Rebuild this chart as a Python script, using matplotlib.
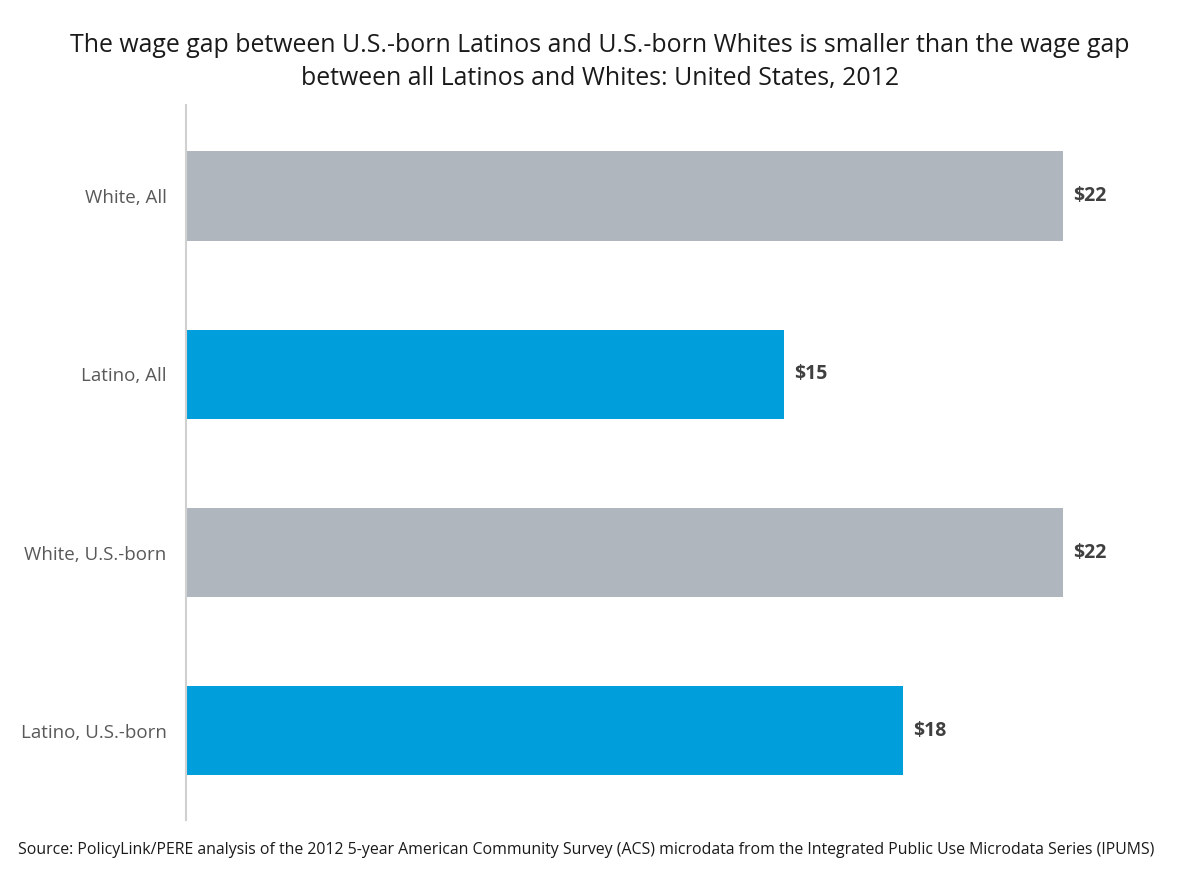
import matplotlib.pyplot as plt

# data
categories = ["White, All", "Latino, All", "White, U.S.-born", "Latino, U.S.-born"]
wages = [22, 15, 22, 18]
bar_colors = ["#AFB6BE", "#009FDB", "#AFB6BE", "#009FDB"]

plt.rcParams["font.family"] = ["Open Sans", "DejaVu Sans"]

fig = plt.figure(figsize=(12, 8.71), dpi=100)
ax = fig.add_axes([186 / 1200, 1 - 820 / 871, 25 * 39.86 / 1200, 715 / 871])

ypos = list(range(len(categories)))
ax.barh(ypos, wages, height=0.5, color=bar_colors)
ax.set_xlim(0, 25)
ax.set_ylim(3.5, -0.51)

ax.set_yticks(ypos)
ax.set_yticklabels(categories, fontsize=13.5, color="#595959")
ax.tick_params(axis="y", length=0, pad=14)
ax.set_xticks([])

for s in ["top", "right", "bottom"]:
    ax.spines[s].set_visible(False)
ax.spines["left"].set_color("#D0D0D0")
ax.spines["left"].set_linewidth(1.5)

for y, val in zip(ypos, wages):
    ax.text(val + 0.25, y, f"${val}", va="center", ha="left",
            fontsize=14, fontweight="bold", color="#404040")

fig.text(0.5, 1 - 45 / 871,
         "The wage gap between U.S.-born Latinos and U.S.-born Whites is smaller than the wage gap",
         ha="center", va="center", fontsize=17.9, color="#1a1a1a")
fig.text(0.5, 1 - 78 / 871,
         "between all Latinos and Whites: United States, 2012",
         ha="center", va="center", fontsize=17.9, color="#1a1a1a")

fig.text(18 / 1200, 1 - 850 / 871,
         "Source: PolicyLink/PERE analysis of the 2012 5-year American Community Survey (ACS) microdata from the Integrated Public Use Microdata Series (IPUMS)",
         ha="left", va="center", fontsize=11.45, color="#1a1a1a")

fig.savefig("out.png", dpi=100)
